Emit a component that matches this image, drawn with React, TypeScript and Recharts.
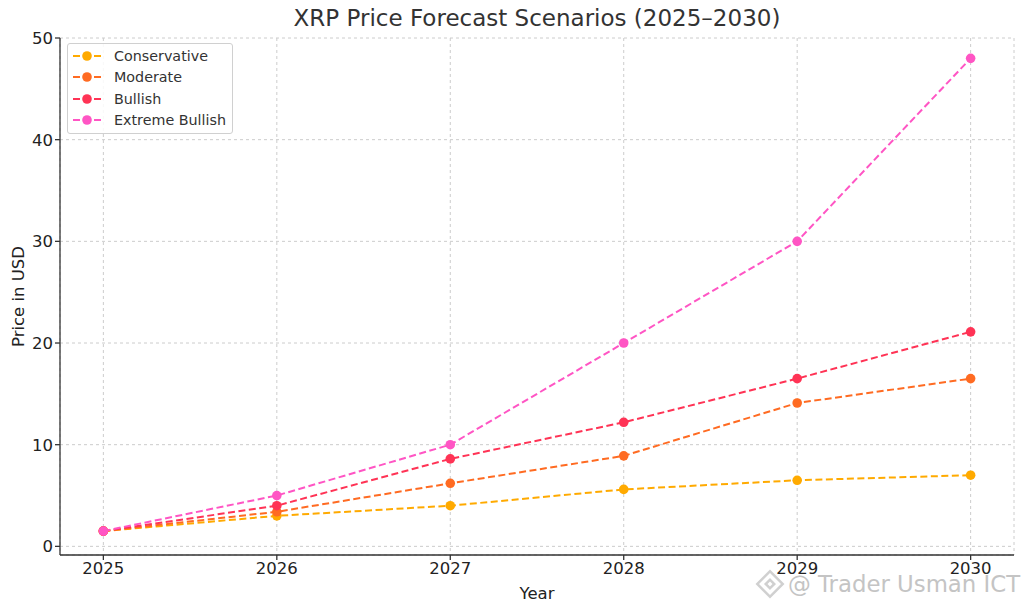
import React from "react";
import { LineChart, Line, XAxis, YAxis, CartesianGrid } from "recharts";

const years = [2025, 2026, 2027, 2028, 2029, 2030];
const conservative = [1.5, 3.0, 4.0, 5.6, 6.5, 7.0];
const moderate = [1.5, 3.4, 6.2, 8.9, 14.1, 16.5];
const bullish = [1.5, 4.0, 8.6, 12.2, 16.5, 21.1];
const extremeBullish = [1.5, 5.0, 10.0, 20.0, 30.0, 48.0];
const priceTicks = [0, 10, 20, 30, 40, 50];

const series = [
  { key: "conservative", name: "Conservative", color: "#ffaa00" },
  { key: "moderate", name: "Moderate", color: "#ff6b22" },
  { key: "bullish", name: "Bullish", color: "#ff3355" },
  { key: "extreme", name: "Extreme Bullish", color: "#ff55c4" },
];

const data = years.map((year, i) => ({
  year,
  conservative: conservative[i],
  moderate: moderate[i],
  bullish: bullish[i],
  extreme: extremeBullish[i],
}));

const font = "'DejaVu Sans', sans-serif";

// legend drawn by hand, Recharts' Legend eats plot height
function LegendBox() {
  return (
    <div
      style={{
        position: "absolute",
        left: 67,
        top: 43,
        background: "rgba(255,255,255,0.85)",
        border: "1px solid #d0d0d0",
        borderRadius: 3,
        padding: "1px 6px 2px 4px",
        fontFamily: font,
        fontSize: 14.3,
        color: "#333",
      }}
    >
      {series.map((s) => (
        <div key={s.key} style={{ display: "flex", alignItems: "center", height: 21.5, whiteSpace: "nowrap" }}>
          <svg width={30} height={12} style={{ marginRight: 12 }}>
            <line x1={1} y1={6} x2={29} y2={6} stroke={s.color} strokeWidth={2} strokeDasharray="7 3.5" />
            <circle cx={15} cy={6} r={4.8} fill={s.color} />
          </svg>
          <span>{s.name}</span>
        </div>
      ))}
    </div>
  );
}

export default function App() {
  return (
    <div style={{ position: "relative", width: 1024, height: 610, background: "#fff", overflow: "hidden" }}>
      <style>{`body{margin:0}`}</style>
      <div
        style={{
          position: "absolute",
          top: 5,
          left: 60,
          width: 954,
          textAlign: "center",
          fontFamily: font,
          fontSize: 23,
          color: "#333",
          whiteSpace: "nowrap",
        }}
      >
        XRP Price Forecast Scenarios (2025–2030)
      </div>
      <LineChart
        width={1024}
        height={610}
        data={data}
        margin={{ top: 38, right: 10, left: 0, bottom: 0 }}
      >
        <CartesianGrid stroke="#cccccc" strokeDasharray="3 3" />
        <XAxis
          dataKey="year"
          type="number"
          domain={[2024.75, 2030.25]}
          ticks={years}
          allowDataOverflow
          height={55}
          tickSize={5}
          stroke="#333"
          strokeWidth={1.3}
          tick={{ fill: "#222", fontSize: 16.5, fontFamily: font }}
          label={{
            value: "Year",
            position: "insideBottom",
            offset: 11,
            fill: "#222",
            fontSize: 16.5,
            fontFamily: font,
          }}
        />
        <YAxis
          type="number"
          domain={[-0.85, 50]}
          ticks={priceTicks}
          allowDataOverflow
          width={60}
          tickSize={5}
          stroke="#333"
          strokeWidth={1.3}
          tick={{ fill: "#222", fontSize: 16.5, fontFamily: font }}
          label={{
            value: "Price in USD",
            angle: -90,
            position: "insideLeft",
            offset: 18,
            fill: "#222",
            fontSize: 16.5,
            fontFamily: font,
            style: { textAnchor: "middle" },
          }}
        />
        {series.map((s) => (
          <Line
            key={s.key}
            type="linear"
            dataKey={s.key}
            name={s.name}
            stroke={s.color}
            strokeWidth={2}
            strokeDasharray="7 3.5"
            dot={{ r: 4.8, fill: s.color, stroke: s.color, strokeWidth: 0 }}
            activeDot={false}
            isAnimationActive={false}
          />
        ))}
      </LineChart>
      <LegendBox />
      <div
        style={{
          position: "absolute",
          left: 754,
          top: 568,
          display: "flex",
          alignItems: "center",
          fontFamily: font,
          fontSize: 22.8,
          color: "#c4c4c4",
          whiteSpace: "nowrap",
          textShadow: "0 0 2px #fff",
          pointerEvents: "none",
        }}
      >
        <svg width={32} height={32} style={{ marginRight: 2 }}>
          <g transform="translate(16 16) rotate(45)" fill="none" stroke="#d0d0d0" strokeWidth={2.5}>
            <rect x={-9} y={-9} width={18} height={18} />
            <rect x={-3} y={-3} width={6} height={6} />
          </g>
        </svg>
        <span>@ Trader Usman ICT</span>
      </div>
    </div>
  );
}
